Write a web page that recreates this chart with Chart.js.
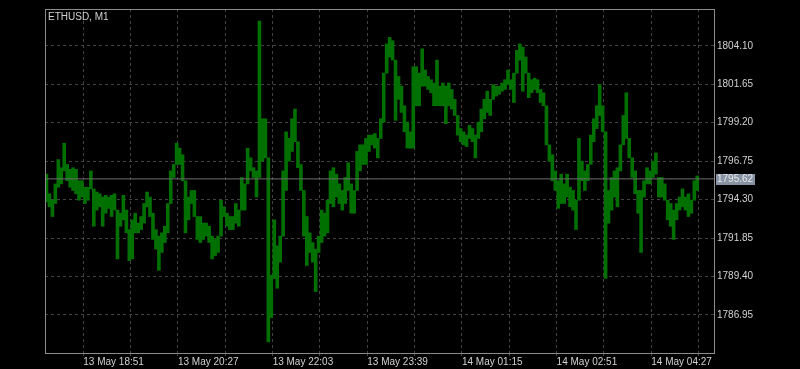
<!DOCTYPE html>
<html>
<head>
<meta charset="utf-8">
<script src="https://cdn.jsdelivr.net/npm/chart.js@4/dist/chart.umd.min.js"></script>
<style>
  html, body { margin: 0; padding: 0; background: #000; }
  canvas { display: block; }
</style>
</head>
<body>
<canvas id="chart" width="800" height="369"></canvas>
<script>
// ETHUSD M1 — 3-minute high/low bars
const BAR_COLOR   = 'rgb(0,112,0)';
const GRID_COLOR  = 'rgba(90,90,90,0.75)';
const FRAME_COLOR = '#8c8c8c';
const TEXT_COLOR  = '#d2d2d2';
const PRICE_LINE  = '#6e6e6e';
const FONT = { family: "'Liberation Sans', Arial, sans-serif", size: 10 };

const chartTitle = 'ETHUSD, M1';
const lastPrice = 1795.62;

// minutes since 13 May 18:00
const X_MIN = 12.16;
const X_MAX = 690.6;
const Y_MIN = 1784.52;
const Y_MAX = 1806.45;

const gridMinutes = [51, 99, 147, 195, 243, 291, 339, 387, 435, 483, 531, 579, 627, 675];
const timeLabels = ['13 May 18:51', '13 May 20:27', '13 May 22:03', '13 May 23:39',
                    '14 May 01:15', '14 May 02:51', '14 May 04:27'];
const priceTicks = [1786.95, 1789.40, 1791.85, 1794.30, 1796.75, 1799.20, 1801.65, 1804.10];

const FIRST_BAR = 13.66;
const BAR_STEP = 3;

const highs = [
  1795.92, 1794.67, 1794.26, 1795.30, 1796.85, 1796.33, 1797.89, 1796.54, 1796.23, 1796.33,
  1796.23, 1795.50, 1795.50, 1795.09, 1795.09, 1796.13, 1794.98, 1794.78, 1794.67, 1794.46,
  1794.57, 1794.46, 1794.57, 1794.67, 1793.63, 1793.43, 1794.57, 1793.63, 1792.39, 1793.01,
  1793.43, 1792.80, 1793.22, 1794.05, 1794.78, 1794.46, 1793.43, 1792.39, 1791.97, 1792.18,
  1792.60, 1794.05, 1796.13, 1796.54, 1797.89, 1797.58, 1797.16, 1795.50, 1794.46, 1794.88,
  1794.88, 1793.22, 1793.22, 1792.80, 1792.80, 1792.60, 1791.97, 1791.76, 1791.97, 1794.26,
  1793.84, 1793.43, 1793.22, 1793.22, 1794.05, 1793.63, 1795.71, 1795.30, 1797.58, 1796.96,
  1796.33, 1796.13, 1805.68, 1799.45, 1799.45, 1796.96, 1789.48, 1793.01, 1791.35, 1791.97,
  1796.13, 1798.62, 1798.20, 1799.45, 1800.07, 1797.99, 1796.54, 1794.88, 1793.22, 1792.18,
  1791.56, 1791.14, 1791.97, 1793.63, 1793.43, 1794.26, 1796.13, 1796.33, 1795.92, 1795.30,
  1794.88, 1795.71, 1796.65, 1795.30, 1794.88, 1797.37, 1797.79, 1797.79, 1798.20, 1798.41,
  1798.41, 1798.51, 1798.20, 1799.45, 1802.36, 1804.23, 1804.64, 1804.43, 1803.19, 1802.15,
  1801.53, 1800.28, 1799.24, 1798.62, 1802.77, 1802.77, 1802.36, 1803.91, 1802.56, 1802.15,
  1801.94, 1801.73, 1803.19, 1801.53, 1801.73, 1801.53, 1801.73, 1801.32, 1800.69, 1799.66,
  1798.83, 1798.62, 1798.41, 1799.03, 1798.83, 1798.41, 1799.24, 1800.07, 1800.69, 1801.21,
  1800.69, 1801.63, 1801.53, 1801.53, 1801.73, 1801.94, 1802.56, 1801.94, 1802.36, 1803.81,
  1804.23, 1804.02, 1803.39, 1802.36, 1801.94, 1802.04, 1801.94, 1801.32, 1801.11, 1800.28,
  1797.79, 1797.16, 1796.13, 1795.50, 1795.92, 1795.30, 1795.92, 1795.09, 1794.88, 1794.26,
  1798.20, 1796.75, 1796.13, 1796.54, 1798.41, 1799.45, 1800.28, 1801.63, 1800.28, 1798.62,
  1794.88, 1795.71, 1796.13, 1796.33, 1797.79, 1799.66, 1801.11, 1798.20, 1796.96, 1796.13,
  1794.88, 1794.88, 1795.50, 1796.33, 1796.13, 1796.75, 1797.27, 1795.71, 1795.71, 1795.30,
  1794.26, 1794.05, 1793.63, 1794.05, 1794.46, 1794.98, 1794.46, 1794.67, 1794.26, 1795.50,
  1795.81,
];

const lows = [
  1794.15, 1793.84, 1793.22, 1794.05, 1795.09, 1795.30, 1796.13, 1795.50, 1795.09, 1794.88,
  1794.67, 1794.26, 1794.46, 1794.05, 1794.26, 1794.98, 1792.60, 1793.63, 1793.84, 1792.60,
  1793.43, 1793.74, 1793.22, 1793.63, 1790.52, 1792.60, 1793.01, 1792.18, 1790.41, 1790.52,
  1792.18, 1792.18, 1792.39, 1792.80, 1793.84, 1793.22, 1791.76, 1791.14, 1789.79, 1790.93,
  1791.56, 1792.18, 1794.05, 1795.71, 1796.54, 1796.54, 1795.50, 1792.18, 1793.01, 1794.05,
  1793.22, 1791.76, 1791.56, 1791.76, 1791.97, 1791.56, 1790.52, 1790.73, 1790.93, 1791.97,
  1793.22, 1792.60, 1792.39, 1792.39, 1792.80, 1792.60, 1793.63, 1793.63, 1795.30, 1796.13,
  1795.71, 1794.46, 1795.71, 1796.75, 1796.96, 1785.22, 1786.78, 1789.27, 1788.65, 1790.31,
  1791.97, 1794.88, 1796.75, 1797.37, 1797.99, 1796.33, 1794.88, 1791.97, 1790.10, 1790.93,
  1790.31, 1788.44, 1790.93, 1791.56, 1791.97, 1792.18, 1794.05, 1793.84, 1794.46, 1794.05,
  1793.63, 1794.05, 1794.88, 1793.43, 1793.43, 1794.88, 1796.13, 1796.54, 1796.54, 1797.37,
  1797.79, 1797.58, 1796.96, 1798.20, 1799.24, 1802.36, 1803.39, 1803.19, 1799.35, 1800.69,
  1799.86, 1798.62, 1797.58, 1797.58, 1797.58, 1800.28, 1800.28, 1801.53, 1801.53, 1801.32,
  1801.11, 1800.28, 1800.28, 1800.28, 1800.28, 1799.14, 1800.28, 1800.07, 1799.66, 1798.41,
  1797.99, 1797.79, 1797.68, 1798.20, 1797.99, 1796.96, 1798.20, 1798.62, 1799.45, 1799.86,
  1799.66, 1800.69, 1800.90, 1801.01, 1801.21, 1801.32, 1801.63, 1801.32, 1800.49, 1802.36,
  1803.19, 1801.21, 1802.36, 1800.80, 1801.11, 1801.32, 1801.11, 1800.49, 1800.28, 1797.79,
  1796.75, 1795.50, 1794.88, 1793.74, 1794.05, 1794.05, 1794.46, 1793.84, 1793.63, 1792.39,
  1794.26, 1795.50, 1794.88, 1795.50, 1796.54, 1797.99, 1798.83, 1799.66, 1798.62, 1789.27,
  1792.80, 1793.63, 1794.46, 1793.84, 1796.13, 1797.79, 1798.20, 1796.96, 1795.71, 1794.67,
  1793.43, 1790.93, 1794.46, 1795.30, 1795.30, 1795.71, 1795.92, 1794.46, 1794.46, 1794.26,
  1793.01, 1792.60, 1791.76, 1793.01, 1793.63, 1793.84, 1793.63, 1793.22, 1793.43, 1794.26,
  1794.88,
];

const barMinutes = highs.map((_, i) => FIRST_BAR + i * BAR_STEP);

// frame, symbol caption and last-price tag
const terminalPlugin = {
  id: 'terminal',
  afterDraw(chart) {
    const { ctx, chartArea: a, scales: { y } } = chart;
    ctx.save();
    ctx.strokeStyle = FRAME_COLOR;
    ctx.lineWidth = 1;
    ctx.strokeRect(Math.round(a.left) + 0.5, Math.round(a.top) + 0.5,
                   Math.round(a.right - a.left), Math.round(a.bottom - a.top));

    ctx.font = `${FONT.size}px ${FONT.family}`;
    ctx.fillStyle = TEXT_COLOR;
    ctx.textBaseline = 'middle';
    ctx.textAlign = 'left';
    ctx.fillText(chartTitle, a.left + 3, a.top + 8);

    const py = Math.round(y.getPixelForValue(lastPrice));
    ctx.fillStyle = '#8793a3';
    ctx.fillRect(a.right + 2, py - 5, 39, 11);
    ctx.fillStyle = '#e8e8e8';
    ctx.fillText(lastPrice.toFixed(2), a.right + 3, py + 0.5);
    ctx.restore();
  },
};

new Chart(document.getElementById('chart'), {
  type: 'bar',
  data: {
    datasets: [
      {
        type: 'line',
        data: [{ x: X_MIN, y: lastPrice }, { x: X_MAX, y: lastPrice }],
        borderColor: PRICE_LINE,
        borderWidth: 1,
        pointRadius: 0,
        order: 0,
      },
      {
        data: barMinutes.map((m, i) => ({ x: m, y: [lows[i], highs[i]] })),
        backgroundColor: BAR_COLOR,
        borderWidth: 0,
        barPercentage: 1,
        categoryPercentage: 1,
        order: 1,
      },
    ],
  },
  options: {
    responsive: false,
    animation: false,
    layout: { padding: { left: 45, top: 1, right: 0, bottom: 0 } },
    plugins: { legend: { display: false }, tooltip: { enabled: false } },
    scales: {
      x: {
        type: 'linear',
        min: X_MIN,
        max: X_MAX,
        offset: false,
        afterBuildTicks(scale) { scale.ticks = gridMinutes.map(v => ({ value: v })); },
        afterFit(scale) { scale.height = 16; },
        ticks: {
          autoSkip: false, maxRotation: 0, minRotation: 0, align: 'start', padding: 0,
          color: TEXT_COLOR, font: FONT,
          callback: (v, i) => (i % 2 === 0 ? timeLabels[i / 2] : ''),
        },
        grid: { color: GRID_COLOR, offset: false, drawTicks: true, tickLength: 3, tickColor: GRID_COLOR },
        border: { color: FRAME_COLOR, dash: [3, 3] },
      },
      y: {
        position: 'right',
        min: Y_MIN,
        max: Y_MAX,
        afterBuildTicks(scale) { scale.ticks = priceTicks.map(v => ({ value: v })); },
        afterFit(scale) { scale.width = 86; },
        ticks: { color: TEXT_COLOR, font: FONT, padding: 3, callback: v => v.toFixed(2) },
        grid: { color: GRID_COLOR, drawTicks: false },
        border: { color: FRAME_COLOR, dash: [3, 3] },
      },
    },
  },
  plugins: [terminalPlugin],
});
</script>
</body>
</html>
